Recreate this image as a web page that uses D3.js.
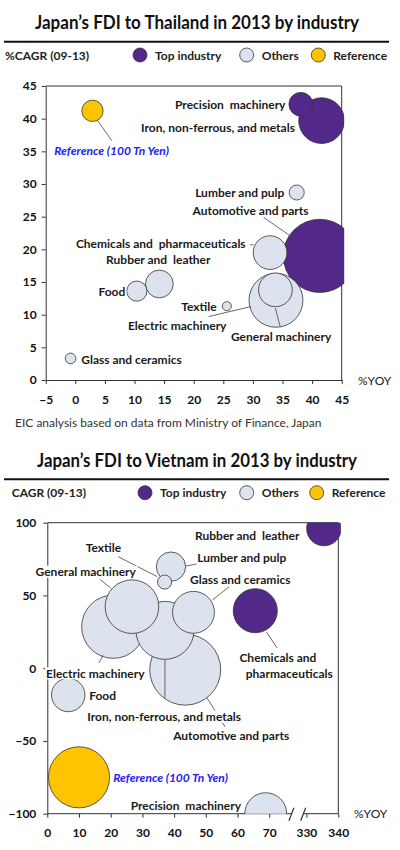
<!DOCTYPE html>
<html>
<head>
<meta charset="utf-8">
<script src="https://cdn.jsdelivr.net/npm/d3@7"></script>
<style>
body { margin: 0; background: #fff; }
text { font-family: Lato, "Open Sans", sans-serif; }
</style>
</head>
<body>
<svg id="chart" width="400" height="850"></svg>
<script>
// Thailand
var thIndustry = ['Precision  machinery', 'Iron, non-ferrous, and metals', 'Lumber and pulp', 'Automotive and parts',
	'Chemicals and  pharmaceuticals', 'Rubber and  leather', 'Food', 'Textile', 'Electric machinery',
	'General machinery', 'Glass and ceramics', 'Reference (100 Tn Yen)'];
var thYoy = [38.1, 41.6, 37.4, 41.3, 32.9, 14.2, 10.4, 25.6, 33.8, 33.9, -0.8, 2.9];
var thCagr = [42.2, 39.7, 28.7, 19.0, 19.5, 14.7, 13.6, 11.3, 13.8, 12.2, 3.3, 41.2];
var thValue = [125, 460, 50, 1180, 250, 170, 90, 18, 250, 640, 25, 100];
var thGroup = ['top', 'top', 'other', 'top', 'other', 'other', 'other', 'other', 'other', 'other', 'other', 'ref'];
var thXTicks = [-5, 0, 5, 10, 15, 20, 25, 30, 35, 40, 45];
var thYTicks = [0, 5, 10, 15, 20, 25, 30, 35, 40, 45];

// Vietnam
var vnIndustry = ['Rubber and  leather', 'Lumber and pulp', 'Textile', 'General machinery', 'Glass and ceramics',
	'Chemicals and pharmaceuticals', 'Electric machinery', 'Iron, non-ferrous, and metals', 'Automotive and parts',
	'Food', 'Precision  machinery', 'Reference (100 Tn Yen)'];
var vnYoy = [335.5, 39.0, 37.0, 26.7, 46.1, 65.6, 20.8, 37.1, 43.5, 6.6, 68.9, 10.0];
var vnCagr = [96, 69.8, 59.2, 42.3, 38.4, 39.5, 28.5, 26, -1, -18.4, -100, -75];
var vnValue = [32, 23, 5.3, 77, 47, 52, 107, 90, 135, 30, 47, 100];
var vnGroup = ['top', 'other', 'other', 'other', 'other', 'top', 'other', 'other', 'other', 'other', 'other', 'ref'];
var vnXTicks = [0, 10, 20, 30, 40, 50, 60, 70, 330, 340];
var vnYTicks = [-100, -50, 0, 50, 100];

var legendItems = ['Top industry', 'Others', 'Reference'];
var groupKeys = ['top', 'other', 'ref'];
var colors = { top: '#522888', other: '#DCE3EE', ref: '#FFC400' };

// label placement, in data units: [text, x, y, anchor]
var thLabels = [
	['Precision  machinery', 35.5, 42.2, 'end'],
	['Iron, non-ferrous, and metals', 37.1, 38.7, 'end'],
	['Reference (100 Tn Yen)', -3.55, 35.2, 'start'],
	['Lumber and pulp', 35.3, 28.7, 'end'],
	['Automotive and parts', 19.8, 25.9, 'start'],
	['Chemicals and  pharmaceuticals', 0.1, 20.9, 'start'],
	['Rubber and  leather', 5.2, 18.4, 'start'],
	['Food', 3.9, 13.6, 'start'],
	['Textile', 17.9, 11.2, 'start'],
	['Electric machinery', 8.9, 8.3, 'start'],
	['General machinery', 26.3, 6.6, 'start'],
	['Glass and ceramics', 1.0, 3.2, 'start']
];
var thLeaders = [[3.67, 39.8, 6.2, 36.6], [31.8, 24.9, 36.1, 22.2], [29.5, 20.7, 30.1, 20.7],
	[22.5, 9.7, 29.7, 11.25], [33.8, 11.0, 34.6, 8.2]];

var vnLabels = [
	['Rubber and  leather', 46.6, 90.9, 'start'],
	['Textile', 12.1, 83.1, 'start'],
	['Lumber and pulp', 47.3, 76.2, 'start'],
	['General machinery', -3.7, 66.3, 'start'],
	['Glass and ceramics', 45.0, 61.1, 'start'],
	['Chemicals and', 60.6, 7.2, 'start'],
	['pharmaceuticals', 62.6, -3.5, 'start'],
	['Electric machinery', -0.4, -3.5, 'start'],
	['Food', 13.2, -18.6, 'start'],
	['Iron, non-ferrous, and metals', 12.6, -33.3, 'start'],
	['Automotive and parts', 39.7, -46.1, 'start'],
	['Reference (100 Tn Yen)', 20.8, -75.3, 'start'],
	['Precision  machinery', 26.3, -94.5, 'start']
];
var vnLeaders = [[22.4, 76.6, 34.7, 62.9], [43.7, 70.2, 47.1, 71.6], [16.6, 61.1, 20.1, 54.9],
	[57.4, 56.0, 52.1, 46.9], [69.1, 24.9, 72.5, 13.9], [16.3, 3.6, 17.6, 9.1],
	[37.1, 5.6, 37.1, -20.7], [50.4, -20.5, 56.1, -40.4]];

var svg = d3.select('#chart');

function drawChart(c) {
	var g = svg.append('g');
	var x = c.x, y = c.y, r = c.r;
	var x0 = x.range()[0], x1 = x.range()[x.range().length - 1];
	var yb = y.range()[0], yt = y.range()[1];

	// title + rule
	g.append('text')
		.attr('x', 197).attr('y', c.titleY)
		.attr('text-anchor', 'middle').attr('dominant-baseline', 'central')
		.attr('textLength', c.titleW).attr('lengthAdjust', 'spacingAndGlyphs')
		.style('font-size', '18px').style('font-weight', 'bold').attr('fill', '#111')
		.text(c.title);
	g.append('line').attr('x1', 4).attr('x2', 389).attr('y1', c.ruleY).attr('y2', c.ruleY)
		.attr('stroke', '#111').attr('stroke-width', 2);

	// y title + legend
	g.append('text').attr('x', c.yTitleX).attr('y', c.legendY).attr('dominant-baseline', 'central')
		.style('font-size', '12px').style('font-weight', 'bold').attr('fill', '#222').text(c.yTitle);
	var lg = g.selectAll('.lg').data(legendItems).enter().append('g')
		.attr('transform', function(d, i) { return 'translate(' + c.legendX[i] + ',' + c.legendY + ')'; });
	lg.append('circle').attr('r', 7).attr('fill', function(d, i) { return colors[groupKeys[i]]; })
		.attr('stroke', '#333').attr('stroke-width', 0.8);
	lg.append('text').attr('x', 15).attr('dominant-baseline', 'central')
		.style('font-size', '12px').style('font-weight', 'bold').attr('fill', '#222').text(function(d) { return d; });

	// axes
	var ya = g.append('g').attr('transform', 'translate(' + x0 + ',0)')
		.call(d3.axisLeft(y).tickValues(c.yTicks).tickSize(4).tickSizeOuter(0).tickPadding(c.yPad));
	var xa = g.append('g').attr('transform', 'translate(0,' + yb + ')')
		.call(d3.axisBottom(x).tickValues(c.xTicks).tickSize(4).tickSizeOuter(0).tickPadding(11)
			.tickFormat(d3.format('d')));
	[ya, xa].forEach(function(a) {
		a.selectAll('text').style('font-size', '12px').style('font-weight', 'bold').attr('fill', '#111')
			.style('font-family', 'Lato, sans-serif');
		a.selectAll('line').attr('stroke', '#333');
		a.select('.domain').attr('stroke', '#333');
	});
	if (c.brk) {
		xa.select('.domain').remove();
		var bx1 = x(c.brk[0]), bx2 = x(c.brk[1]);
		xa.append('line').attr('x1', x0).attr('x2', bx1).attr('stroke', '#333');
		xa.append('line').attr('x1', bx2).attr('x2', x1).attr('stroke', '#333');
		[bx1, bx2].forEach(function(bx) {
			xa.append('line').attr('x1', bx - 2.5).attr('y1', 7).attr('x2', bx + 2.5).attr('y2', -6)
				.attr('stroke', '#333').attr('stroke-width', 1.2);
		});
	}
	g.append('path').attr('d', 'M' + x0 + ',' + yt + 'H' + x1 + 'V' + yb)
		.attr('fill', 'none').attr('stroke', '#333');
	g.append('text').attr('x', c.yoyX).attr('y', yb).attr('dominant-baseline', 'central')
		.style('font-size', '12px').attr('fill', '#222').text('%YOY');

	// bubbles
	g.append('clipPath').attr('id', c.id + 'clip').append('rect')
		.attr('x', x0).attr('y', yt).attr('width', x1 - x0 + 2.5).attr('height', yb - yt);
	var pts = c.names.map(function(n, i) {
		return { name: n, yoy: c.yoy[i], cagr: c.cagr[i], value: c.value[i], group: c.group[i] };
	}).sort(function(a, b) { return b.value - a.value; });
	g.append('g').attr('clip-path', 'url(#' + c.id + 'clip)')
		.selectAll('circle').data(pts).enter().append('circle')
		.attr('cx', function(d) { return x(d.yoy); })
		.attr('cy', function(d) { return y(d.cagr); })
		.attr('r', function(d) { return r(d.value); })
		.attr('fill', function(d) { return colors[d.group]; })
		.attr('stroke', '#333').attr('stroke-width', 0.8)
		.append('title').text(function(d) { return d.name; });

	// leader lines
	g.selectAll('.leader').data(c.leaders).enter().append('line')
		.attr('x1', function(d) { return x(d[0]); }).attr('y1', function(d) { return y(d[1]); })
		.attr('x2', function(d) { return x(d[2]); }).attr('y2', function(d) { return y(d[3]); })
		.attr('stroke', '#444').attr('stroke-width', 0.8);

	// labels
	var lab = g.selectAll('.lab').data(c.labels).enter().append('g');
	var lt = lab.append('text')
		.attr('x', function(d) { return x(d[1]); }).attr('y', function(d) { return y(d[2]); })
		.attr('text-anchor', function(d) { return d[3]; }).attr('dominant-baseline', 'central')
		.style('font-size', '12px').style('font-weight', 'bold')
		.style('font-style', function(d) { return d[0].indexOf('Reference') === 0 ? 'italic' : 'normal'; })
		.attr('fill', function(d) { return d[0].indexOf('Reference') === 0 ? '#2222F5' : '#1a1a1a'; })
		.style('white-space', 'pre')
		.text(function(d) { return d[0]; });
	lt.each(function() {
		var b = this.getBBox();
		d3.select(this.parentNode).insert('rect', 'text')
			.attr('x', b.x - 1).attr('y', b.y + 1.5).attr('width', b.width + 2).attr('height', b.height - 3)
			.attr('fill', '#fff');
	});
}

drawChart({
	id: 'th',
	title: 'Japan\u2019s FDI to Thailand in 2013 by industry', titleY: 21.7, titleW: 324, ruleY: 41.7,
	yTitle: '%CAGR (09-13)', yTitleX: 5, legendY: 55, legendX: [140, 246.7, 318.3],
	x: d3.scaleLinear().domain([-5, 45]).range([45.7, 341.7]),
	y: d3.scaleLinear().domain([0, 45]).range([380, 86]),
	r: d3.scaleSqrt().domain([0, d3.max(thValue)]).range([0, 36.6]),
	xTicks: thXTicks, yTicks: thYTicks, yPad: 5, yoyX: 358,
	names: thIndustry, yoy: thYoy, cagr: thCagr, value: thValue, group: thGroup,
	labels: thLabels, leaders: thLeaders
});

drawChart({
	id: 'vn',
	title: 'Japan\u2019s FDI to Vietnam in 2013 by industry', titleY: 460, titleW: 320, ruleY: 479.3,
	yTitle: 'CAGR (09-13)', yTitleX: 11.7, legendY: 492.7, legendX: [145, 246.7, 316.7],
	x: d3.scaleLinear().domain([0, 78, 328, 340]).range([47.3, 294.6, 300, 338.3]),
	y: d3.scaleLinear().domain([-100, 100]).range([813.7, 522.7]),
	r: d3.scaleSqrt().domain([0, d3.max(vnValue)]).range([0, 35.5]),
	xTicks: vnXTicks, yTicks: vnYTicks, yPad: 7, yoyX: 354, brk: [77, 329],
	names: vnIndustry, yoy: vnYoy, cagr: vnCagr, value: vnValue, group: vnGroup,
	labels: vnLabels, leaders: vnLeaders
});

svg.append('text').attr('x', 15).attr('y', 422).attr('dominant-baseline', 'central')
	.style('font-size', '12px').attr('fill', '#333')
	.text('EIC analysis based on data from Ministry of Finance, Japan');
</script>
</body>
</html>
